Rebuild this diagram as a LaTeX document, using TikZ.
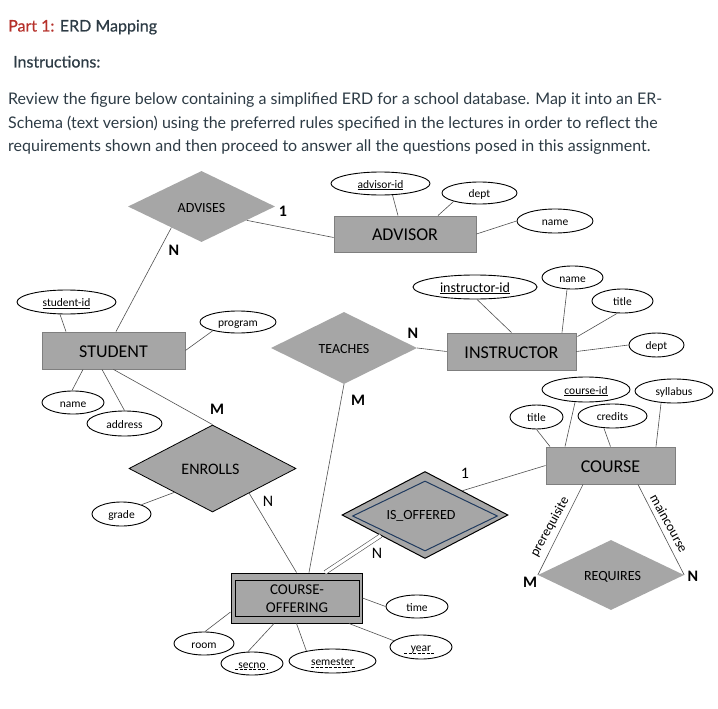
\documentclass[tikz,border=0pt]{standalone}
\usepackage{fontspec}
\setmainfont{Carlito}
\newfontfamily\headfont{Lato}
\newfontfamily\headbold[FakeBold=0.6]{Lato}
\usetikzlibrary{shapes.geometric}
\definecolor{boxgray}{HTML}{A6A6A6}
\definecolor{edgegray}{HTML}{7F7F7F}
\definecolor{linkgray}{HTML}{505050}
\definecolor{headink}{HTML}{2D3B45}
\definecolor{partred}{HTML}{B5302A}
\definecolor{navy}{HTML}{1F3A5F}
\tikzset{
  entity/.style={draw=edgegray,fill=boxgray,line width=0.9pt,inner sep=0pt,text height=13pt,text depth=0pt,font=\fontsize{18}{20}\selectfont},
  rel/.style={diamond,fill=boxgray,aspect=2,inner sep=0pt,text height=11pt,text depth=0pt,font=\fontsize{14}{16}\selectfont},
  attr/.style={ellipse,draw=black,fill=white,line width=0.9pt,inner sep=0pt,text height=9pt,text depth=0pt,font=\fontsize{11.5}{14}\selectfont},
  link/.style={draw=linkgray,line width=0.6pt},
  keydash/.style={draw=black,line width=0.7pt,dash pattern=on 3pt off 1.5pt},
  cardb/.style={inner sep=0pt,font=\fontsize{16}{18}\selectfont\bfseries},
  card/.style={inner sep=0pt,font=\fontsize{16}{18}\selectfont},
  role/.style={inner sep=0pt,font=\fontsize{13.5}{16}\selectfont},
  head/.style={anchor=base west,inner sep=0pt,text=headink,font=\headfont\fontsize{16}{18}\selectfont},
  headb/.style={head,font=\headbold\fontsize{16}{18}\selectfont},
}
\begin{document}
\begin{tikzpicture}[x=1pt,y=-1pt]
\useasboundingbox (0,0) rectangle (718,709);
% header text
\node[headb] (h1) at (8,31.5) {\textcolor{partred}{Part 1:} ERD Mapping};
\node[headb] (h2) at (13,67.5) {Instructions:};
\node[head] (l1) at (8,104.5) {Review the figure below containing a simplified ERD for a school database. Map it into an ER-};
\node[head] (l2) at (8,128.5) {Schema (text version) using the preferred rules specified in the lectures in order to reflect the};
\node[head] (l3) at (8,151.5) {requirements shown and then proceed to answer all the questions posed in this assignment.};
% relationships
\node[rel,minimum width=147,minimum height=71] (advises) at (201.5,206.5) {ADVISES};
\node[rel,minimum width=146,minimum height=72] (teaches) at (344,348) {TEACHES};
\node[rel,draw=black,line width=0.8pt,minimum width=167,minimum height=87,text height=11pt,font=\fontsize{16}{18}\selectfont] (enrolls) at (212.5,468.5) {\kern-4pt ENROLLS};
\node[rel,draw=black,line width=1pt,minimum width=166,minimum height=87] (isoff) at (425,515) {};
\node[rel,draw=navy,line width=1pt,minimum width=145,minimum height=70,text height=7pt] (isoffin) at (425,516) {\kern-8pt IS\_OFFERED};
\node[rel,minimum width=146,minimum height=70] (requires) at (611,575) {\kern3pt REQUIRES};
% entities
\node[entity,minimum width=142,minimum height=36] (advisor) at (405,234) {ADVISOR};
\node[entity,minimum width=129,minimum height=37] (instructor) at (511.5,351.5) {INSTRUCTOR};
\node[entity,minimum width=143,minimum height=37] (student) at (113.5,350.5) {STUDENT};
\node[entity,minimum width=129,minimum height=37] (course) at (610.5,465.5) {COURSE};
\node[draw=black,fill=boxgray,line width=1pt,minimum width=131,minimum height=50,inner sep=0pt] (offering) at (296.5,598) {};
\node[draw=black,fill=boxgray,line width=1pt,minimum width=124,minimum height=36,inner sep=0pt,align=center,font=\fontsize{15}{18}\selectfont] (offeringin) at (297,598.5) {COURSE-\\OFFERING};
% attributes
\node[attr,minimum width=99,minimum height=23] (advid) at (380.5,183.5) {\underline{advisor-id}};
\node[attr,minimum width=75,minimum height=22] (advdept) at (479.5,193) {dept};
\node[attr,minimum width=76,minimum height=24] (advname) at (555,221) {name};
\node[attr,minimum width=124,minimum height=24,text height=10pt,font=\fontsize{14}{16}\selectfont] (instid) at (475,287) {\underline{instructor-id}};
\node[attr,minimum width=61,minimum height=23] (instname) at (572.5,277.5) {name};
\node[attr,minimum width=61,minimum height=24] (insttitle) at (622.5,301) {title};
\node[attr,minimum width=55,minimum height=24] (instdept) at (656.5,345) {dept};
\node[attr,minimum width=99,minimum height=24] (studid) at (66.5,302) {\underline{student-id}};
\node[attr,minimum width=76,minimum height=22] (program) at (238,322) {program};
\node[attr,minimum width=62,minimum height=23] (studname) at (73,402.5) {name};
\node[attr,minimum width=75,minimum height=25] (address) at (124.5,423.5) {address};
\node[attr,minimum width=59,minimum height=24] (grade) at (121.5,514) {grade};
\node[attr,minimum width=62,minimum height=23] (time) at (417,606.5) {time};
\node[attr,minimum width=62,minimum height=24] (year) at (421,647) {year};
\node[attr,minimum width=60,minimum height=23] (room) at (204,643.5) {room};
\node[attr,minimum width=62,minimum height=23] (secno) at (252,663.5) {secno};
\node[attr,minimum width=87,minimum height=24] (semester) at (332.5,661) {semester};
\node[attr,minimum width=88,minimum height=25] (courseid) at (586,389.5) {\underline{course-id}};
\node[attr,minimum width=78,minimum height=24] (syllabus) at (674,391) {syllabus};
\node[attr,minimum width=53,minimum height=24] (coursetitle) at (536.5,417) {title};
\node[attr,minimum width=69,minimum height=24] (credits) at (612.5,416) {credits};
% partial-key underlines
\draw[keydash] ([xshift=-17,yshift=-6]year.center) -- ([xshift=14,yshift=-6]year.center);
\draw[keydash] ([xshift=-17,yshift=-6]secno.center) -- ([xshift=15,yshift=-6]secno.center);
\draw[keydash] ([xshift=-21.5,yshift=-6]semester.center) -- ([xshift=22.5,yshift=-6]semester.center);
% connectors
\draw[link] (advises.215) -- ([xshift=2.5]student.north);
\draw[link] (advises.-17.7) -- ([yshift=-3.5]advisor.west);
\draw[link] (advid.-44) -- ([xshift=-7]advisor.north);
\draw[link] (advdept.198) -- ([xshift=33]advisor.north);
\draw[link] (advname.west) -- (advisor.east);
\draw[link] ([xshift=2]instid.south) -- (instructor.north);
\draw[link] ([xshift=-5.5]instname.south) -- ([xshift=50.5]instructor.north);
\draw[link] ([xshift=-5.5]insttitle.south) -- ([xshift=1,yshift=-4]instructor.north east);
\draw[link] (instdept.west) -- (instructor.east);
\draw[link] (teaches.east) -- (instructor.west);
\draw[link] (teaches.south) -- ([xshift=12.5]offering.north);
\draw[link] ([xshift=-6.5]studid.south) -- ([xshift=-47.5]student.north);
\draw[link] (program.199) -- (student.east);
\draw[link] ([xshift=-30.5]student.south) -- ([xshift=-1]studname.north);
\draw[link] ([xshift=-11.5]student.south) -- (address.north);
\draw[link] (student.south) -- (enrolls.north);
\draw[link] (enrolls.-34) -- (offering.north);
\draw[link] (grade.25) -- (enrolls.212);
\draw[linkgray,line width=0.6pt,double=white,double distance=3.2pt] ([xshift=28.5]offering.north) -- (isoff.205.6);
\draw[link] (isoff.33) -- (course.west);
\draw[link] (offering.east) -- (time.west);
\draw[link] ([xshift=52.5]offering.south) -- (year.167.5);
\draw[link] ([yshift=-14]offering.west) -- ([xshift=1]room.north);
\draw[link] ([xshift=-22.5]offering.south) -- ([xshift=-4]secno.north);
\draw[link] (offering.south) -- (semester.159);
\draw[link] ([xshift=-11]courseid.south) -- ([xshift=-45.5]course.north);
\draw[link] (coursetitle.south) -- ([xshift=-60.5]course.north);
\draw[link] ([xshift=-8.5]credits.south) -- (course.north);
\draw[link] ([xshift=-13]syllabus.south) -- ([xshift=45.5]course.north);
\draw[link] ([xshift=-27.5]course.south) -- (requires.west);
\draw[link] ([xshift=27.5]course.south) -- (requires.east);
% cardinalities and roles
\node[cardb] (c1) at (283,211) {1};
\node[cardb] (c2) at (174,250.5) {N};
\node[cardb] (c3) at (413,333.5) {N};
\node[cardb] (c4) at (217,409.5) {M};
\node[cardb] (c5) at (358,400.5) {M};
\node[card] (c6) at (268,501) {N};
\node[card] (c7) at (465,473) {1};
\node[card] (c8) at (377,553) {N};
\node[cardb] (c9) at (530,582) {M};
\node[cardb] (c10) at (693,576) {N};
\node[role,rotate=61] (pre) at (550,527) {prerequisite};
\node[role,rotate=-61] (mainc) at (669,523.5) {maincourse};
\end{tikzpicture}
\end{document}
